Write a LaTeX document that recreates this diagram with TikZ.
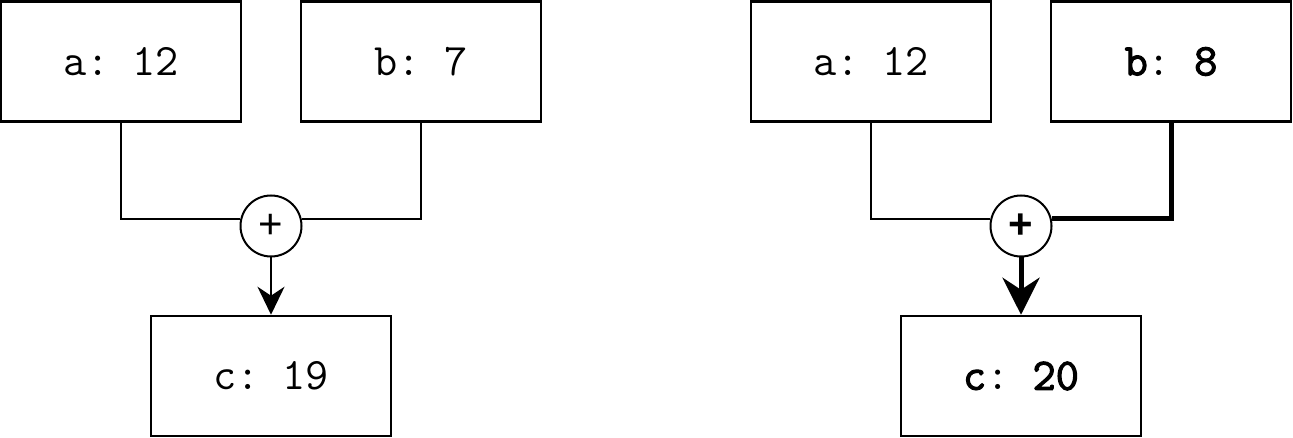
\documentclass[tikz,border=0pt]{standalone}
\usepackage{fontspec}
\setsansfont{Liberation Sans}
\setmonofont{Latin Modern Mono}[BoldFont={Latin Modern Mono},BoldFeatures={FakeBold=2.5}]
\usetikzlibrary{arrows.meta}
\begin{document}
\frenchspacing
\begin{tikzpicture}[x=1pt,y=-1pt,line join=miter,
	valbox/.style={draw,line width=2.5pt,minimum width=240pt,minimum height=120pt,inner sep=0pt,font=\ttfamily\fontsize{45}{45}\selectfont},
	sumnode/.style={draw,circle,line width=2pt,minimum size=61pt,inner sep=0pt,fill=white,font=\sffamily\fontsize{42}{42}\selectfont},
	wire/.style={line width=2.5pt},
	hot/.style={line width=5pt}]
	\useasboundingbox (0,0) rectangle (1293,438);
	% before
	\node[valbox] (a1) at (121,61.5) {a: 12};
	\node[valbox] (b1) at (421,61.5) {b: 7};
	\node[sumnode] (sum1) at (271,226) {+};
	\node[valbox] (c1) at (271,376) {c: 19};
	\draw[wire] (a1.south) |- (sum1.167);
	\draw[wire] (b1.south) |- (sum1.13);
	\draw[wire,-{Stealth[length=28pt,width=27pt,inset=9pt]}] (sum1) -- (c1);
	% after
	\node[valbox] (a2) at (871,61.5) {a: 12};
	\node[valbox] (b2) at (1171,61.5) {\textbf{b}: \textbf{8}};
	\node[sumnode] (sum2) at (1021,226) {\textbf{+}};
	\node[valbox] (c2) at (1021,376) {\textbf{c}: \textbf{20}};
	\draw[wire] (a2.south) |- (sum2.167);
	\draw[hot] (b2.south) |- (sum2.13);
	\draw[hot,-{Stealth[length=37pt,width=37pt,inset=12pt]}] (sum2) -- (c2);
\end{tikzpicture}
\end{document}
